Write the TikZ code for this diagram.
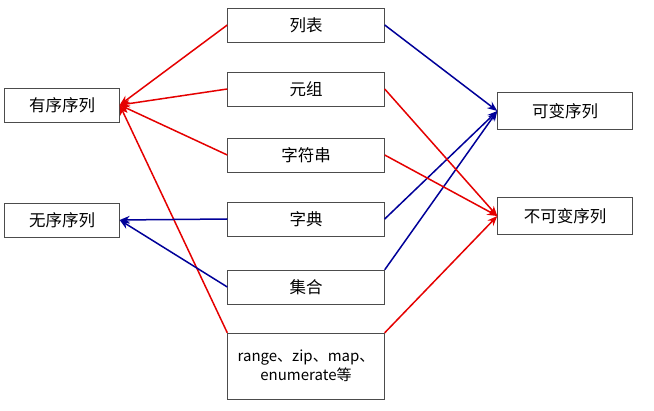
\documentclass[tikz,border=0pt]{standalone}
\usepackage{fontspec}
\newfontfamily\cjk{Noto Sans CJK SC}
\usetikzlibrary{arrows.meta}
\begin{document}
\begin{tikzpicture}[x=1pt,y=-1pt,
 box/.style={draw=black!70,fill=white,font=\cjk\fontsize{16.5}{19}\selectfont,inner sep=0pt,align=center},
 r/.style={draw=red!90!black,line width=1.5pt,-{Stealth[length=10pt,width=8pt]}},
 b/.style={draw=blue!60!black,line width=1.5pt,-{Stealth[length=10pt,width=8pt]}}]
\useasboundingbox[fill=white] (0,0) rectangle (654,411);
\node[box,minimum width=115,minimum height=34] (o) at (62,105) {有序序列};
\node[box,minimum width=115,minimum height=34] (u) at (62,220) {无序序列};
\node[box,minimum width=157,minimum height=34] (l) at (306,25) {列表};
\node[box,minimum width=157,minimum height=34] (t) at (306,89) {元组};
\node[box,minimum width=157,minimum height=34] (s) at (306,155) {字符串};
\node[box,minimum width=157,minimum height=34] (d) at (306,219) {字典};
\node[box,minimum width=157,minimum height=34] (c) at (306,287) {集合};
\node[box,minimum width=157,minimum height=66] (g) at (306,366) {\fontsize{15}{22}\selectfont range、zip、map、\\\fontsize{15}{22}\selectfont enumerate等};
\node[box,minimum width=135,minimum height=37] (m) at (565,111) {可变序列};
\node[box,minimum width=135,minimum height=37] (i) at (565,216) {不可变序列};
\draw[r] (l.west) -- (o.east);
\draw[r] (t.west) -- (o.east);
\draw[r] (s.west) -- (o.east);
\draw[r] (g.north west) -- (o.east);
\draw[b] (d.west) -- (u.east);
\draw[b] (c.west) -- (u.east);
\draw[b] (l.east) -- (m.west);
\draw[b] (d.east) -- (m.west);
\draw[b] (c.north east) -- (m.west);
\draw[r] (t.east) -- (i.west);
\draw[r] (s.east) -- (i.west);
\draw[r] (g.north east) -- (i.west);
\end{tikzpicture}
\end{document}
